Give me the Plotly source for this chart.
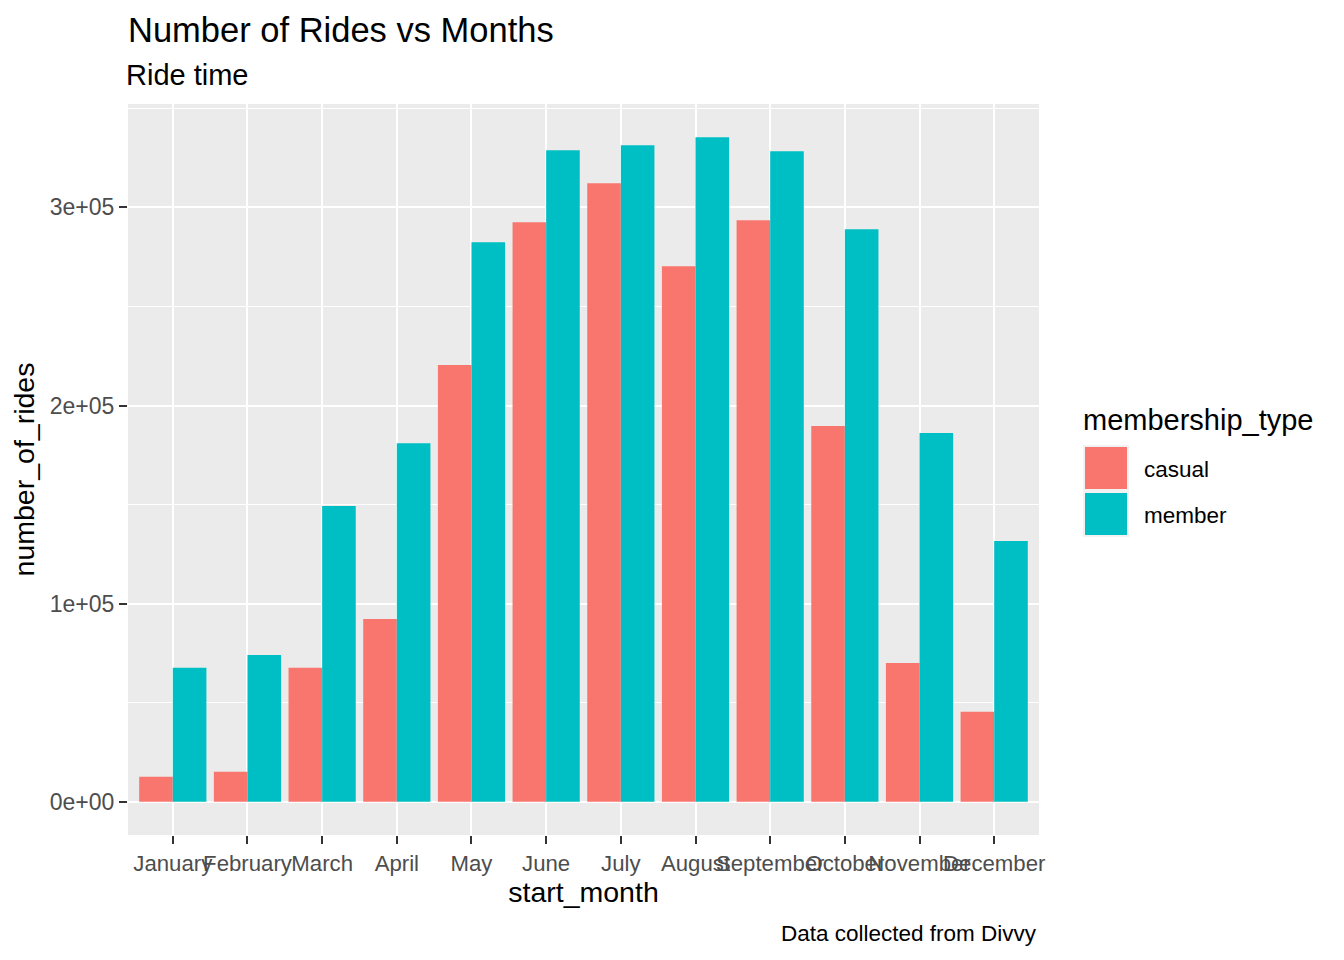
import plotly.graph_objects as go

# rides per month by membership type
months = ["January", "February", "March", "April", "May", "June", "July",
          "August", "September", "October", "November", "December"]
casual = [12600, 15100, 67600, 92300, 220400, 292500, 312200, 270300,
          293500, 189600, 70100, 45400]
member = [67600, 74100, 149300, 181000, 282400, 328800, 331300, 335400,
          328300, 289000, 186100, 131600]
series_names = ["casual", "member"]
series_colors = ["#F8766D", "#00BFC4"]
y_tickvals = [0, 100000, 200000, 300000]
y_ticktext = ["0e+00", "1e+05", "2e+05", "3e+05"]

# the page body adds an 8px margin, so the figure is 8px smaller
OFF = 8
W, H = 1344 - OFF, 960 - OFF
L, R, T, B = 128 - OFF, 305, 104 - OFF, 125
FONT = "Liberation Sans, Arial, sans-serif"


# helpers: page pixel -> paper coordinate
def px_x(px):
    return (px - OFF - L) / (W - L - R)


def px_y(py):
    return (H - B - (py - OFF)) / (H - T - B)


fig = go.Figure()
for name, vals, col in zip(series_names, [casual, member], series_colors):
    fig.add_trace(go.Bar(x=months, y=vals, name=name, marker_color=col,
                         marker_line_width=0, showlegend=False))

ymax = max(casual + member)
fig.update_layout(
    width=W, height=H,
    margin=dict(l=L, r=R, t=T, b=B),
    paper_bgcolor="white", plot_bgcolor="#EBEBEB",
    barmode="group", bargap=0.1, bargroupgap=0,
    font=dict(family=FONT, color="black"),
    title=dict(text="Number of Rides vs Months", x=L / W, xanchor="left",
               y=1 - (30 - OFF) / H, yanchor="middle", yref="container",
               font=dict(size=34.5, color="black")),
)
fig.update_xaxes(
    range=[-0.6, len(months) - 0.4], showgrid=True, gridcolor="white", gridwidth=2,
    ticks="outside", ticklen=8, tickwidth=2, tickcolor="#333333", tickangle=0,
    tickfont=dict(size=22.2, color="#4D4D4D"), zeroline=False,
    title=dict(text="start_month", font=dict(size=28.5, color="black"), standoff=5),
)
fig.update_yaxes(
    range=[-0.05 * ymax, 1.05 * ymax], tickvals=y_tickvals, ticktext=y_ticktext,
    showgrid=True, gridcolor="white", gridwidth=2, zeroline=False,
    minor=dict(dtick=50000, tick0=0, showgrid=True, gridcolor="white", gridwidth=1, ticks=""),
    ticks="outside", ticklen=8, tickwidth=2, tickcolor="#333333",
    tickfont=dict(size=23, color="#4D4D4D"),
    title=dict(text="number_of_rides", font=dict(size=28.5, color="black"), standoff=8),
)

# subtitle and caption
fig.add_annotation(text="Ride time", xref="paper", yref="paper", x=-0.004, y=px_y(75),
                   xanchor="left", yanchor="middle", showarrow=False,
                   font=dict(size=29, color="black"))
fig.add_annotation(text="Data collected from Divvy", xref="paper", yref="paper",
                   x=1, y=px_y(933), xanchor="right", yanchor="middle",
                   showarrow=False, font=dict(size=22.5, color="black"))

# legend drawn ggplot-style
fig.add_annotation(text="membership_type", xref="paper", yref="paper",
                   x=px_x(1081), y=px_y(420), xanchor="left", yanchor="middle",
                   showarrow=False, font=dict(size=29, color="black"))
for i, (name, col) in enumerate(zip(series_names, series_colors)):
    top = 446 + i * 46
    fig.add_shape(type="rect", xref="paper", yref="paper",
                  x0=px_x(1084), x1=px_x(1128), y0=px_y(top + 44), y1=px_y(top),
                  fillcolor=col, line=dict(color="#F2F2F2", width=2))
    fig.add_annotation(text=name, xref="paper", yref="paper",
                       x=px_x(1142), y=px_y(top + 23), xanchor="left", yanchor="middle",
                       showarrow=False, font=dict(size=22.5, color="black"))

fig.write_html("out.html")
